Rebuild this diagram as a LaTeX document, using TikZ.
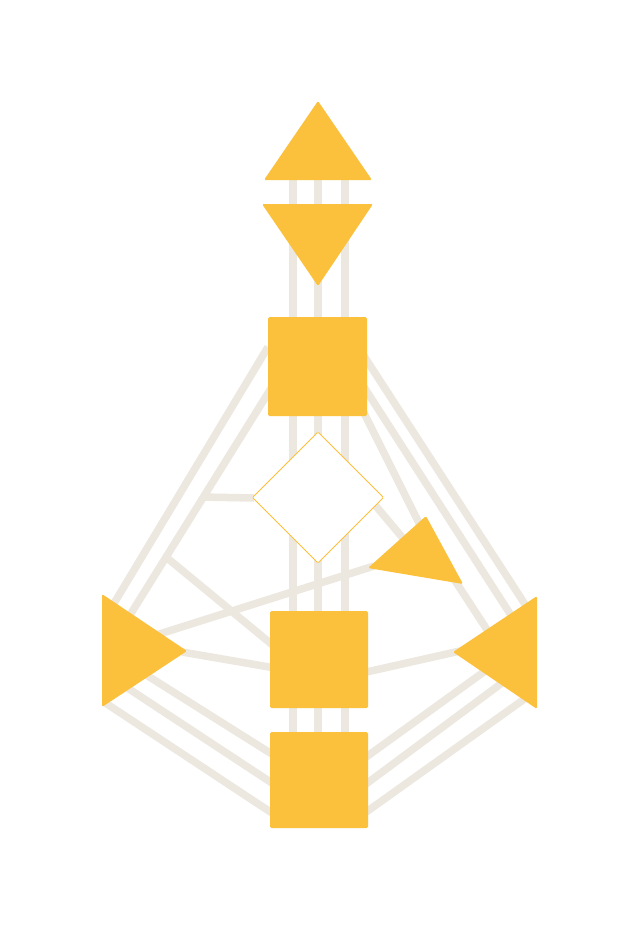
\documentclass[tikz,border=0pt]{standalone}
\definecolor{hdyellow}{HTML}{FBC13C}
\definecolor{chan}{HTML}{ECE8E0}
\begin{document}
\begin{tikzpicture}[x=1pt,y=-1pt,
  channel/.style={draw=chan, line width=7.5pt},
  centre/.style={fill=hdyellow, rounded corners=1.5pt}]
\useasboundingbox (0,0) rectangle (639,930);
\fill[white] (0,0) rectangle (639,930);
% ---- channel end points ----
\coordinate (v1t) at (293,176); \coordinate (v1b) at (293,740);
\coordinate (v2t) at (318,176); \coordinate (v2b) at (318,740);
\coordinate (v3t) at (345,176); \coordinate (v3b) at (345,740);
% left throat-spleen
\coordinate (tl1) at (268,347); \coordinate (sl1) at (110,610);
\coordinate (tl2) at (275,382); \coordinate (sl2) at (130,615);
% G to left line
\coordinate (gL) at (254,498); \coordinate (jL) at (201,497);
% line to sacral
\coordinate (jS) at (166,557); \coordinate (sacL1) at (275,647);
% spleen-heart
\coordinate (spH) at (150,637); \coordinate (hL) at (374,566);
% spleen-sacral
\coordinate (spA) at (182,652); \coordinate (sacL2) at (275,668);
% spleen-root
\coordinate (s1a) at (140,671); \coordinate (r1a) at (275,756);
\coordinate (s2a) at (120,683); \coordinate (r2a) at (275,785);
\coordinate (s3a) at (104,702); \coordinate (r3a) at (275,815);
% root-solar plexus
\coordinate (r1b) at (362,760); \coordinate (p1) at (492,666);
\coordinate (r2b) at (362,787); \coordinate (p2) at (510,677);
\coordinate (r3b) at (362,815); \coordinate (p3) at (530,695);
% sacral-solar plexus
\coordinate (sacR) at (362,673); \coordinate (pA) at (460,651);
% throat-solar plexus
\coordinate (tr1) at (362,353); \coordinate (pt1) at (530,612);
\coordinate (tr2) at (362,384); \coordinate (pt2) at (516,623);
% throat-heart
\coordinate (tr3) at (360,405); \coordinate (hT) at (420,525);
% heart-solar plexus
\coordinate (hB) at (450,573); \coordinate (pt3) at (497,645);
% G-heart
\coordinate (gR) at (370,499); \coordinate (hG) at (407,543);
% ---- channels ----
\foreach \a/\b in {v1t/v1b,v2t/v2b,v3t/v3b,tl1/sl1,tl2/sl2,gL/jL,jS/sacL1,
  spH/hL,spA/sacL2,s1a/r1a,s2a/r2a,s3a/r3a,r1b/p1,r2b/p2,r3b/p3,sacR/pA,
  tr1/pt1,tr2/pt2,tr3/hT,hB/pt3,gR/hG}
  \draw[channel] (\a) -- (\b);
% ---- centres ----
% head
\fill[centre] (318,101) -- (372,180) -- (264,180) -- cycle;
% ajna
\fill[centre] (262,204) -- (373,204) -- (318,286) -- cycle;
% throat
\fill[centre] (268,317) rectangle (367,416);
% G
\filldraw[fill=white, draw=hdyellow, line width=0.8pt, rounded corners=1pt]
  (318,432) -- (383.5,497.5) -- (318,563) -- (252.5,497.5) -- cycle;
% heart
\fill[centre] (426,516) -- (463,584) -- (368,568) -- cycle;
% spleen
\fill[centre] (102,594) -- (187,651) -- (102,707) -- cycle;
% solar plexus
\fill[centre] (537,596) -- (537,709) -- (453,652) -- cycle;
% sacral
\fill[centre] (270,611) rectangle (368,708);
% root
\fill[centre] (270,732) rectangle (368,828);
\end{tikzpicture}
\end{document}
